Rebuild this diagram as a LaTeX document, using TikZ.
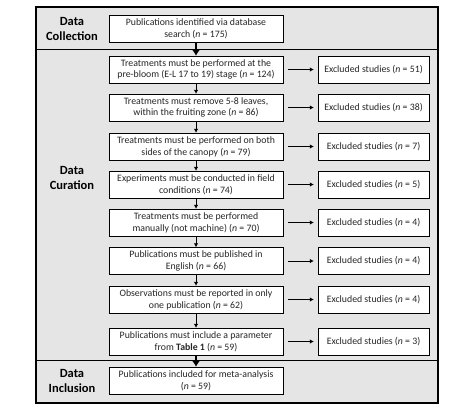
\documentclass[tikz,border=0pt]{standalone}
\usepackage{fontspec}
\setmainfont{Carlito}
\usetikzlibrary{arrows.meta,calc,positioning}
\newcommand{\boxwd}{174pt}
\newcommand{\exwd}{111pt}
\newcommand{\boxht}{27pt}
\colorlet{panelgray}{black!10}
\colorlet{txtgray}{black!85}
\tikzset{
    stepsty/.style={draw,fill=white,rectangle,minimum width=\boxwd,minimum height=\boxht,
      inner sep=1pt,align=center,text=txtgray,font=\fontsize{9.8}{11.8}\selectfont},
    exclsty/.style={draw,fill=white,rectangle,minimum width=\exwd,minimum height=\boxht,
      inner sep=1pt,align=center,text=txtgray,font=\fontsize{9.8}{11.8}\selectfont},
    secsty/.style={align=center,font=\fontsize{12.5}{15}\selectfont\bfseries},
    flowsty/.style={-{Latex[length=4pt,width=4.5pt]},line width=1pt},
    bigflowsty/.style={-{Latex[length=6pt,width=8pt]},line width=2.2pt},
    outsty/.style={-{Latex[length=4pt,width=4.5pt]},line width=1pt,shorten <=5pt,shorten >=4pt},
    framesty/.style={line width=1.4pt},
}
\newcommand{\nn}{\textit{n}}

\begin{document}
\begin{tikzpicture}[x=1pt,y=-1pt]
\useasboundingbox (0,0) rectangle (474,413);
% panels
\draw[framesty,fill=panelgray] (36,7) rectangle (438,403);
\draw[framesty] (36,49.5) -- (438,49.5);
\draw[framesty] (36,360.5) -- (438,360.5);
% section labels
\node[secsty] (collect) at (72,28.5) {Data\\Collection};
\node[secsty] (curate)  at (72,178)  {Data\\Curation};
\node[secsty] (include) at (72,380.5) {Data\\Inclusion};
% main steps
\node[stepsty] (s0) at (196,28.5)  {Publications identified via database\\search (\nn{} = 175)};
\node[stepsty] (s1) at (196,69.5)  {Treatments must be performed at the\\pre-bloom (E-L 17 to 19) stage (\nn{} = 124)};
\node[stepsty] (s2) at (196,107.5) {Treatments must remove 5-8 leaves,\\within the fruiting zone (\nn{} = 86)};
\node[stepsty] (s3) at (196,146.5) {Treatments must be performed on both\\sides of the canopy (\nn{} = 79)};
\node[stepsty] (s4) at (196,184.5) {Experiments must be conducted in field\\conditions (\nn{} = 74)};
\node[stepsty] (s5) at (196,222.5) {Treatments must be performed\\manually (not machine) (\nn{} = 70)};
\node[stepsty] (s6) at (196,261)   {Publications must be published in\\English (\nn{} = 66)};
\node[stepsty] (s7) at (196,299.5) {Observations must be reported in only\\one publication (\nn{} = 62)};
\node[stepsty] (s8) at (196,341.5) {Publications must include a parameter\\from \textbf{Table 1} (\nn{} = 59)};
\node[stepsty] (s9) at (196,380.5) {Publications included for meta-analysis\\(\nn{} = 59)};
% excluded
\node[exclsty] (e1) at (373.5,69.5)  {Excluded studies (\nn{} = 51)};
\node[exclsty] (e2) at (373.5,107.5) {Excluded studies (\nn{} = 38)};
\node[exclsty] (e3) at (373.5,146.5) {Excluded studies (\nn{} = 7)};
\node[exclsty] (e4) at (373.5,184.5) {Excluded studies (\nn{} = 5)};
\node[exclsty] (e5) at (373.5,222.5) {Excluded studies (\nn{} = 4)};
\node[exclsty] (e6) at (373.5,261)   {Excluded studies (\nn{} = 4)};
\node[exclsty] (e7) at (373.5,299.5) {Excluded studies (\nn{} = 4)};
\node[exclsty] (e8) at (373.5,341.5) {Excluded studies (\nn{} = 3)};
% arrows
\draw[bigflowsty] (s0) -- (s1);
\draw[flowsty] (s1) -- (s2);
\draw[flowsty] (s2) -- (s3);
\draw[flowsty] (s3) -- (s4);
\draw[flowsty] (s4) -- (s5);
\draw[flowsty] (s5) -- (s6);
\draw[flowsty] (s6) -- (s7);
\draw[flowsty] (s7) -- (s8);
\draw[bigflowsty] (s8) -- (s9);
\draw[outsty] (s1) -- (e1);
\draw[outsty] (s2) -- (e2);
\draw[outsty] (s3) -- (e3);
\draw[outsty] (s4) -- (e4);
\draw[outsty] (s5) -- (e5);
\draw[outsty] (s6) -- (e6);
\draw[outsty] (s7) -- (e7);
\draw[outsty] (s8) -- (e8);
\end{tikzpicture}
\end{document}
